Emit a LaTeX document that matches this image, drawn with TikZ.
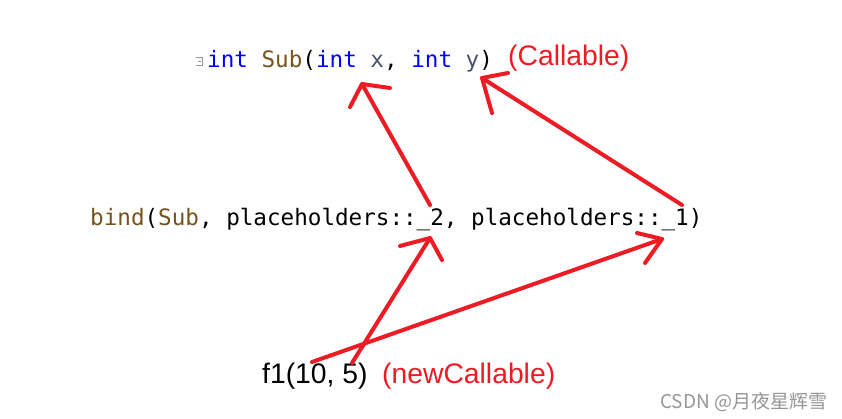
\documentclass[tikz,border=0pt]{standalone}
\usepackage{fontspec}
\setmainfont{Liberation Sans}
\setmonofont{DejaVu Sans Mono}
\newfontfamily\cjkfont{Noto Sans CJK SC}
\usepackage{tikz}
\usetikzlibrary{calc}

\definecolor{kwblue}{RGB}{0,0,255}
\definecolor{fnbrown}{RGB}{116,83,31}
\definecolor{parmgray}{RGB}{72,82,108}
\definecolor{penred}{RGB}{237,28,36}
\definecolor{markgray}{RGB}{150,150,150}

\tikzset{
  code/.style={font=\ttfamily\fontsize{22.6}{26}\selectfont, anchor=base west, inner sep=0pt},
  note/.style={font=\fontsize{28.3}{32}\selectfont, anchor=base west, inner sep=0pt},
  pen/.style={draw=penred, line width=4pt, line cap=round, line join=round}
}

\begin{document}
\begin{tikzpicture}[x=1pt, y=-1pt]

  \useasboundingbox[fill=white] (0, 0) rectangle (842, 419);

  % code lines
  \node[code] (sig) at (207, 68)
    {\textcolor{kwblue}{int} \textcolor{fnbrown}{Sub}(\textcolor{kwblue}{int} \textcolor{parmgray}{x}, \textcolor{kwblue}{int} \textcolor{parmgray}{y})};
  \node[code] (bind) at (90, 226)
    {\textcolor{fnbrown}{bind}(\textcolor{fnbrown}{Sub}, placeholders::\_2, placeholders::\_1)};
  \draw[markgray, thin] (196, 57.5) -- (202, 57.5) -- (202, 65.5) -- (196, 65.5);
  \draw[markgray, thin] (198, 61.5) -- (200.5, 61.5);

  % notes
  \node[note, text=penred] (callable) at (508, 66) {(Callable)};
  \node[note] (call) at (262, 383) {f1(10, 5)};
  \node[note, text=penred] (newcallable) at (382, 383) {(newCallable)};

  \node[anchor=base west, inner sep=0pt, text=markgray,
        font=\cjkfont\fontsize{19}{22}\selectfont] (mark) at (660, 408) {CSDN @月夜星辉雪};

  % hand-drawn arrows: tail, tip, two barbs
  \foreach \tx/\ty/\hx/\hy/\ax/\ay/\bx/\by [count=\n] in
      {430/205/362/84/350/107/390/88,
       682/205/482/78/508/73/492/113,
       352/363/430/238/400/246/442/260,
       312/362/662/239/637/233/645/263} {
    \coordinate (tail\n) at (\tx, \ty);
    \coordinate (tip\n)  at (\hx, \hy);
    \coordinate (barbA\n) at (\ax, \ay);
    \coordinate (barbB\n) at (\bx, \by);
    \draw[pen] (tail\n) -- (tip\n);
    \draw[pen] (barbA\n) -- (tip\n) -- (barbB\n);
  }

\end{tikzpicture}
\end{document}
